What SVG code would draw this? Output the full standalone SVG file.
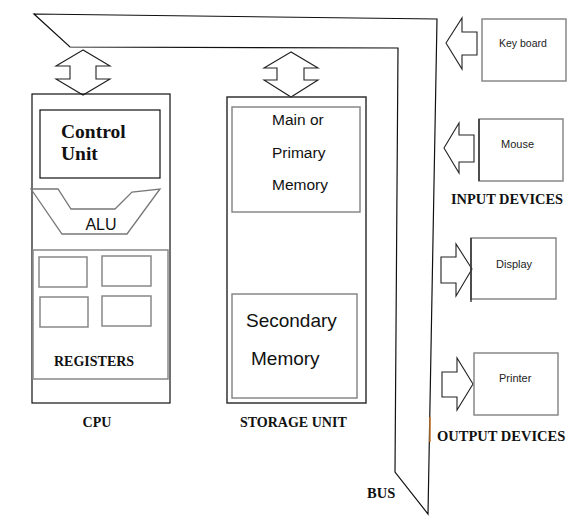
<svg xmlns="http://www.w3.org/2000/svg" width="572" height="520" viewBox="0 0 572 520">
<style>
.ln{fill:none;stroke:#111;stroke-width:1.2}
.gb{fill:none;stroke:#888;stroke-width:1.5}
.dk{fill:none;stroke:#333;stroke-width:1.5}
.ar{fill:#fff;stroke:#222;stroke-width:1.1;stroke-linejoin:miter}
.bs{font-family:"Liberation Serif",serif;font-weight:bold;font-size:14px;fill:#111}
.ss{font-family:"Liberation Sans",Arial,sans-serif;fill:#111}
.sm{font-family:"Liberation Sans",Arial,sans-serif;font-size:11px;fill:#222}
</style>
<rect width="572" height="520" fill="#fff"/>
<g id="connectors">
<polygon id="bus" class="ln" points="34,14 437,19 428,514 395,472 398,48 70,47"/>
<polygon id="arrow-cpu" class="ar" points="83,50 56,66 70,66 70,79 56,79 83,95 110,79 96,79 96,66 110,66"/>
<polygon id="arrow-storage" class="ar" points="291,52 264,68 277,68 277,80 264,80 291,97 318,80 304,80 304,68 318,68"/>
<polygon id="arrow-keyboard" class="ar" points="446,43 462,18 462,32 477,32 477,55 462,55 462,69"/>
<polygon id="arrow-mouse" class="ar" points="444,148 459,123 459,135 474,135 474,162 459,162 459,173"/>
<polygon id="arrow-display" class="ar" points="472,269 456,244 456,257 441,257 441,283 456,283 456,296"/>
<polygon id="arrow-printer" class="ar" points="473,384 457,358 457,372 442,372 442,397 457,397 457,410"/>
<line x1="430" y1="417" x2="430" y2="442" stroke="#c87a30" stroke-width="1.5"/>
</g>
<g id="cpu">
<rect x="32" y="94" width="138" height="309" class="ln"/>
<g id="control-unit">
<rect x="40" y="110" width="120" height="68" class="ln"/>
<text x="61" y="138" class="bs" style="font-size:19.5px">Control</text>
<text x="61" y="160" class="bs" style="font-size:19.5px">Unit</text>
</g>
<g id="alu">
<polygon points="31,189 58,189 71,209 115,209 132,192 160,189 127,234 62,234" fill="none" stroke="#777" stroke-width="1.3"/>
<text x="101" y="230" class="ss" font-size="16" text-anchor="middle">ALU</text>
</g>
<g id="registers">
<rect x="33" y="250" width="135" height="129" class="gb"/>
<rect x="39" y="257" width="48" height="30" class="gb"/>
<rect x="102" y="256" width="49" height="30" class="gb"/>
<rect x="40" y="297" width="48" height="30" class="gb"/>
<rect x="102" y="296" width="49" height="30" class="gb"/>
<text x="54" y="366" class="bs">REGISTERS</text>
</g>
<text x="97" y="427" class="bs" text-anchor="middle">CPU</text>
</g>
<g id="storage-unit">
<rect x="227" y="97" width="139" height="306" class="dk"/>
<g id="main-memory">
<rect x="232" y="107" width="128" height="105" class="gb"/>
<text x="272" y="125" class="ss" font-size="15.5">Main or</text>
<text x="272" y="158" class="ss" font-size="15.5">Primary</text>
<text x="272" y="190" class="ss" font-size="15.5">Memory</text>
</g>
<g id="secondary-memory">
<rect x="232" y="294" width="125" height="104" class="gb"/>
<text x="246" y="327" class="ss" font-size="19">Secondary</text>
<text x="251" y="365" class="ss" font-size="19">Memory</text>
</g>
<text x="240" y="427" class="bs">STORAGE UNIT</text>
</g>
<g id="keyboard">
<rect x="482" y="19" width="84" height="62" class="gb"/>
<text x="499" y="47" class="sm" style="font-size:10.5px">Key board</text>
</g>
<g id="mouse">
<rect x="479" y="119" width="84" height="62" class="gb"/>
<line x1="479" y1="119" x2="479" y2="181" stroke="#111" stroke-width="1.2"/>
<text x="501" y="148" class="sm">Mouse</text>
</g>
<text x="451" y="204" class="bs" style="font-size:14.4px">INPUT DEVICES</text>
<g id="display">
<rect x="471" y="238" width="85" height="61" class="gb"/>
<line x1="471" y1="238" x2="471" y2="302" stroke="#111" stroke-width="1.2"/>
<text x="496" y="268" class="sm">Display</text>
</g>
<g id="printer">
<rect x="474" y="353" width="84" height="62" class="gb"/>
<text x="499" y="382" class="sm">Printer</text>
</g>
<text x="437" y="441" class="bs" style="font-size:14.5px">OUTPUT DEVICES</text>
<text x="367" y="498" class="bs" style="font-size:14.5px">BUS</text>
</svg>
